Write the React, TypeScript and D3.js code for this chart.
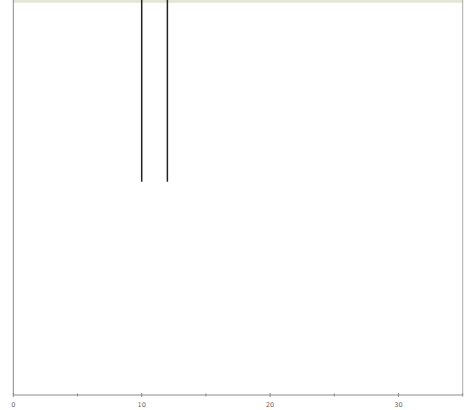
import React from "react";
import * as d3 from "d3";

const xTicks = [0, 10, 20, 30];
const xMinorTicks = [5, 15, 25, 35];
const xDomain = [0, 35];
const yDomain = [0, 100];
const markerX = [10, 12];
const markerTop = [100, 100];
const markerBottom = [54, 54];
const bandRange = [99.3, 100];

export default function App() {
  const W = 474;
  const H = 410;
  const m = { left: 13.3, right: 11.3, top: 0, bottom: 15 };
  const x = d3.scaleLinear().domain(xDomain).range([m.left, W - m.right]);
  const y = d3.scaleLinear().domain(yDomain).range([H - m.bottom, m.top]);
  const axisColor = "#8a8a8a";
  return (
    <svg
      width={W}
      height={H}
      style={{ position: "absolute", left: 0, top: 0, background: "#fff" }}
    >
      <rect
        x={x(xDomain[0])}
        y={y(bandRange[1])}
        width={x(xDomain[1]) - x(xDomain[0])}
        height={y(bandRange[0]) - y(bandRange[1])}
        fill="#e3e5d6"
      />
      <line x1={x(0)} x2={x(0)} y1={y(yDomain[0])} y2={y(yDomain[1])} stroke={axisColor} strokeWidth={1} />
      <line x1={x(35)} x2={x(35)} y1={y(yDomain[0])} y2={y(yDomain[1])} stroke="#aaa" strokeWidth={1} />
      <line x1={x(0)} x2={x(35)} y1={y(0)} y2={y(0)} stroke={axisColor} strokeWidth={1} />
      {markerX.map((v, i) => (
        <line
          key={i}
          x1={x(v)}
          x2={x(v)}
          y1={y(markerTop[i])}
          y2={y(markerBottom[i])}
          stroke="#222"
          strokeWidth={1.5}
        />
      ))}
      {xTicks.map((t) => (
        <g key={t}>
          <line x1={x(t)} x2={x(t)} y1={y(0) - 2} y2={y(0) + 2} stroke={axisColor} />
          <text
            x={x(t)}
            y={y(0) + 12}
            textAnchor="middle"
            fontFamily="DejaVu Sans, sans-serif"
            fontSize={6.5}
            fill="#666"
          >
            {t}
          </text>
        </g>
      ))}
      {xMinorTicks.map((t) => (
        <line key={t} x1={x(t)} x2={x(t)} y1={y(0) - 1.5} y2={y(0) + 1.5} stroke={axisColor} />
      ))}
    </svg>
  );
}
